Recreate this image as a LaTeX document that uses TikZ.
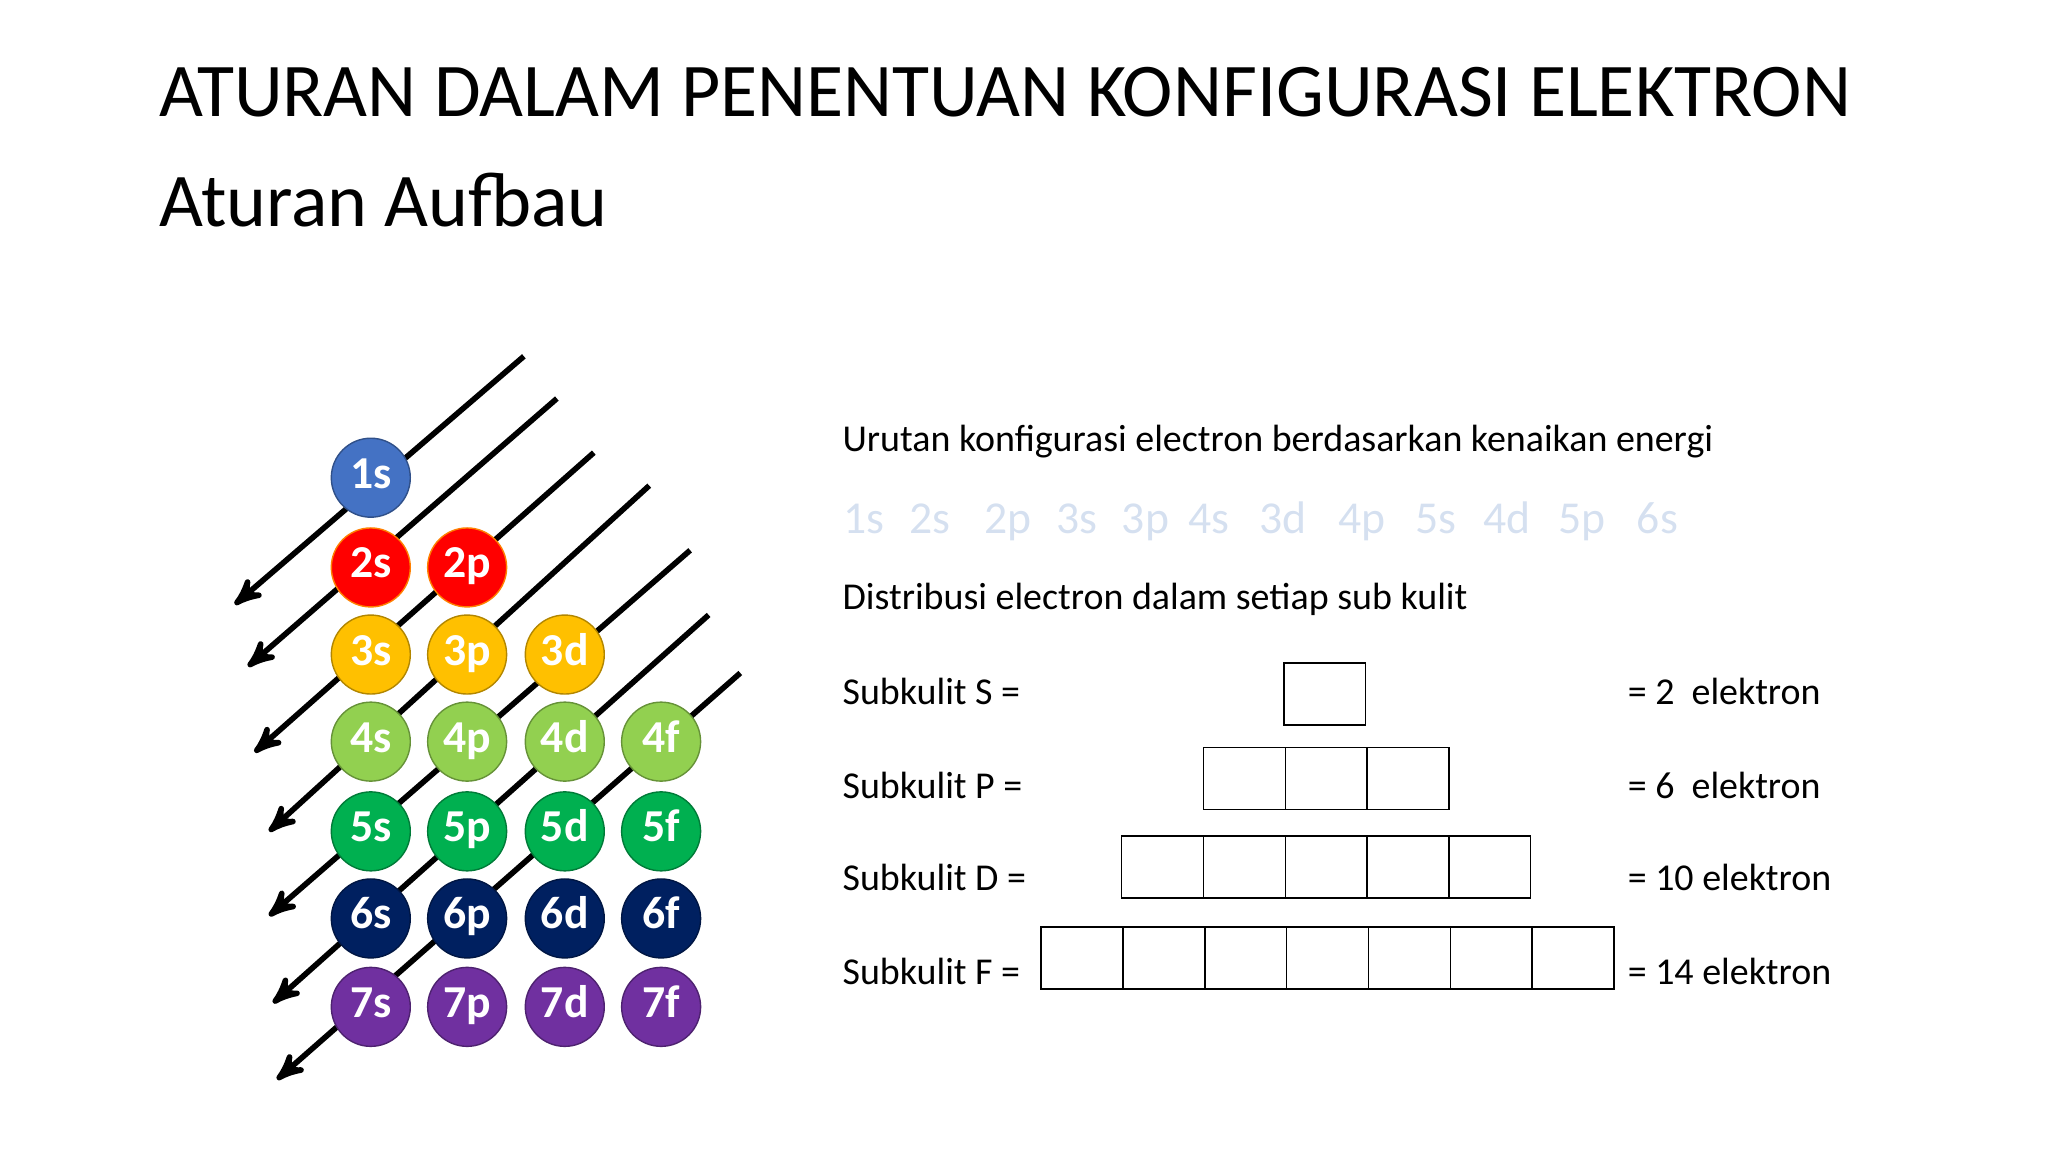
\documentclass[tikz,border=0pt]{standalone}
\usepackage{fontspec}
\setmainfont{Carlito}
\usetikzlibrary{arrows}
\definecolor{cS}{HTML}{4472C4}
\definecolor{cR}{HTML}{FF0000}
\definecolor{cY}{HTML}{FFC000}
\definecolor{cLG}{HTML}{92D050}
\definecolor{cG}{HTML}{00B050}
\definecolor{cN}{HTML}{002060}
\definecolor{cV}{HTML}{7030A0}
\definecolor{faint}{HTML}{D5E0F0}
\begin{document}
\begin{tikzpicture}[x=0.013196cm,y=-0.013196cm,>=stealth',
    orb/.style={circle,minimum size=0.79cm,inner sep=0pt,draw=#1!70!black,
        fill=#1,text=white,text height=1.5ex,text depth=0.25ex,
        font=\fontsize{13}{13}\selectfont\bfseries},
    arr/.style={->,line width=1.6pt},
    cell/.style={draw,minimum width=0.818cm,minimum height=0.62cm,inner sep=0pt},
    lbl/.style={anchor=west,inner sep=0pt,font=\fontsize{10.8}{12}\selectfont}]

    \useasboundingbox (0,0) rectangle (1552,873);

    \node[anchor=base west,inner sep=0pt,font=\fontsize{21.6}{24}\selectfont] (title) at (120,88)
        {ATURAN DALAM PENENTUAN KONFIGURASI ELEKTRON};
    \node[anchor=base west,inner sep=0pt,font=\fontsize{21.6}{24}\selectfont] (sub) at (120,172)
        {Aturan Aufbau};

    % arrows behind the orbitals
    \coordinate (a1) at (397,270); \coordinate (b1) at (178,458);
    \coordinate (a2) at (422,302); \coordinate (b2) at (188,505);
    \coordinate (a3) at (450,343); \coordinate (b3) at (193,570);
    \coordinate (a4) at (492,368); \coordinate (b4) at (204,630);
    \coordinate (a5) at (523,417); \coordinate (b5) at (204,694);
    \coordinate (a6) at (537,466); \coordinate (b6) at (207,760);
    \coordinate (a7) at (561,510); \coordinate (b7) at (210,818);
    \foreach \i in {1,...,7}
        \draw[arr] (a\i) -- (b\i);

    % orbitals
    \node[orb=cS] (o1s) at (281,362) {1s};
    \node[orb=cR,draw=orange] (o2s) at (281,430) {2s};
    \node[orb=cR,draw=orange] (o2p) at (354,430) {2p};
    \foreach \o/\x in {s/281,p/354,d/428}
        \node[orb=cY] (o3\o) at (\x,496) {3\o};
    \foreach \l/\y/\c in {4/562/cLG,5/630/cG,6/696/cN,7/763/cV}
        \foreach \o/\x in {s/281,p/354,d/428,f/501}
            \node[orb=\c] (o\l\o) at (\x,\y) {\l\o};

    \node[lbl] (urut) at (638,335) {Urutan konfigurasi electron berdasarkan kenaikan energi};
    \foreach \t/\x in {1s/655,2s/705,2p/764,3s/816,3p/868,4s/916,3d/972,4p/1032,5s/1088,4d/1142,5p/1199,6s/1256}
        \node[font=\fontsize{13}{13}\selectfont,text=faint,text height=1.5ex,text depth=0.25ex] (e\t) at (\x,396) {\t};
    \node[lbl] (dist) at (638,454) {Distribusi electron dalam setiap sub kulit};

    \node[lbl] (ls) at (638,524) {Subkulit S =};
    \node[lbl] (lp) at (638,595) {Subkulit P =};
    \node[lbl] (ld) at (638,665) {Subkulit D =};
    \node[lbl] (lf) at (638,736) {Subkulit F =};
    \node[lbl] (rs) at (1233,524) {= 2\ \ elektron};
    \node[lbl] (rp) at (1233,595) {= 6\ \ elektron};
    \node[lbl] (rd) at (1233,665) {= 10 elektron};
    \node[lbl] (rf) at (1233,736) {= 14 elektron};

    \node[cell] (s1) at (1004,526) {};
    \foreach \k in {0,1,2}
        \node[cell] (p\k) at (943+62*\k,590) {};
    \foreach \k in {0,...,4}
        \node[cell] (d\k) at (881+62*\k,657) {};
    \foreach \k in {0,...,6}
        \node[cell] (f\k) at (820+62*\k,726) {};
\end{tikzpicture}
\end{document}
